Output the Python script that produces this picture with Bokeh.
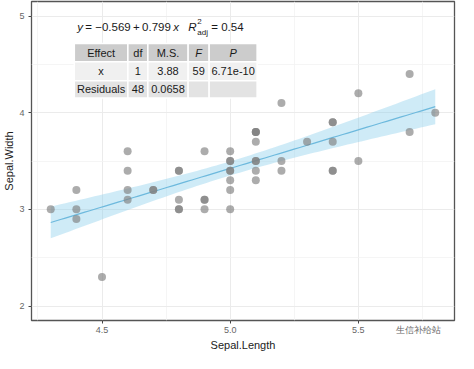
import numpy as np
from bokeh.plotting import figure
from bokeh.models import (Range1d, FixedTicker, Label, ColumnDataSource,
                          LinearAxis, Grid)
from bokeh.embed import file_html
from bokeh.resources import INLINE

# ---- data (iris setosa) ----
sepal_length = [5.1, 4.9, 4.7, 4.6, 5.0, 5.4, 4.6, 5.0, 4.4, 4.9,
                5.4, 4.8, 4.8, 4.3, 5.8, 5.7, 5.4, 5.1, 5.7, 5.1,
                5.4, 5.1, 4.6, 5.1, 4.8, 5.0, 5.0, 5.2, 5.2, 4.7,
                4.8, 5.4, 5.2, 5.5, 4.9, 5.0, 5.5, 4.9, 4.4, 5.1,
                5.0, 4.5, 4.4, 5.0, 5.1, 4.8, 5.1, 4.6, 5.3, 5.0]
sepal_width = [3.5, 3.0, 3.2, 3.1, 3.6, 3.9, 3.4, 3.4, 2.9, 3.1,
               3.7, 3.4, 3.0, 3.0, 4.0, 4.4, 3.9, 3.5, 3.8, 3.8,
               3.4, 3.7, 3.6, 3.3, 3.4, 3.0, 3.4, 3.5, 3.4, 3.2,
               3.1, 3.4, 4.1, 4.2, 3.1, 3.2, 3.5, 3.6, 3.0, 3.4,
               3.5, 2.3, 3.2, 3.5, 3.8, 3.0, 3.8, 3.2, 3.7, 3.3]

x_ticks = [4.5, 5.0, 5.5]
x_tick_labels = ["4.5", "5.0", "5.5"]
x_minor = [4.25, 4.75, 5.25, 5.75]
y_ticks = [2, 3, 4, 5]
y_minor = [2.5, 3.5, 4.5]

table_header = ["Effect", "df", "M.S.", "F", "P"]
table_rows = [["x", "1", "3.88", "59", "6.71e-10"],
              ["Residuals", "48", "0.0658", "", ""]]

eq_intercept = "\u22120.569"
eq_slope = "0.799"
eq_r2 = "0.54"
watermark = "\u751f\u4fe1\u8865\u7ed9\u7ad9"
watermark_x = 5.735

# ---- regression band (stat_smooth, lm, 95% CI) ----
xs = np.array(sepal_length)
ys = np.array(sepal_width)
n = len(xs)
b1, b0 = np.polyfit(xs, ys, 1)
resid = ys - (b0 + b1 * xs)
s = np.sqrt(np.sum(resid ** 2) / (n - 2))
sxx = np.sum((xs - xs.mean()) ** 2)
grid_x = np.linspace(xs.min(), xs.max(), 80)
fit = b0 + b1 * grid_x
se = s * np.sqrt(1.0 / n + (grid_x - xs.mean()) ** 2 / sxx)
tcrit = 2.0106
lower = fit - tcrit * se
upper = fit + tcrit * se

FONT = "Liberation Sans"

p = figure(width=458, height=353, output_backend="svg", toolbar_location=None,
           x_range=Range1d(4.225, 5.875), y_range=Range1d(1.85, 5.15),
           x_axis_location=None,
           min_border_left=0, min_border_right=4, min_border_top=1, min_border_bottom=0)
p.background_fill_color = "white"
p.border_fill_color = "white"
p.outline_line_color = "#555555"
p.outline_line_width = 1.3


def style_axis(ax):
    ax.axis_line_color = None
    ax.major_tick_line_color = "#444444"
    ax.major_tick_in = 0
    ax.major_tick_out = 3
    ax.minor_tick_line_color = None
    ax.major_label_text_font = FONT
    ax.major_label_text_font_size = "9px"
    ax.major_label_text_color = "#666666"
    ax.major_label_standoff = 3
    ax.axis_label_text_font = FONT
    ax.axis_label_text_font_size = "11px"
    ax.axis_label_text_font_style = "normal"
    ax.axis_label_text_color = "#222222"
    ax.axis_label_standoff = 1


# y axis
style_axis(p.yaxis[0])
p.yaxis.ticker = FixedTicker(ticks=y_ticks, minor_ticks=y_minor)
p.yaxis.axis_label = "Sepal.Width"

# x axis, part 1: tick marks only (nearest the frame)
x_marks = LinearAxis(ticker=FixedTicker(ticks=x_ticks))
style_axis(x_marks)
x_marks.major_label_overrides = {t: "" for t in x_ticks}
x_marks.major_label_text_font_size = "1px"
x_marks.major_label_standoff = 0
p.add_layout(x_marks, "below")

# x axis, part 2: tick labels (+ watermark) and title
x_labels = LinearAxis(ticker=FixedTicker(ticks=x_ticks + [watermark_x]))
style_axis(x_labels)
x_labels.major_tick_out = 0
x_labels.major_label_standoff = 1
x_labels.major_label_overrides = dict(zip(x_ticks + [watermark_x],
                                          x_tick_labels + [watermark]))
x_labels.axis_label = "Sepal.Length"
p.add_layout(x_labels, "below")

# grids
x_grid_ticker = FixedTicker(ticks=x_ticks, minor_ticks=x_minor)
y_grid_ticker = FixedTicker(ticks=y_ticks, minor_ticks=y_minor)
if len(p.xgrid) == 0:
    p.add_layout(Grid(dimension=0))
for g in p.xgrid:
    g.ticker = x_grid_ticker
for g in p.ygrid:
    g.ticker = y_grid_ticker
for g in list(p.xgrid) + list(p.ygrid):
    g.grid_line_color = "#EBEBEB"
    g.grid_line_width = 1
    g.minor_grid_line_color = "#F2F2F2"
    g.minor_grid_line_width = 0.8

# ribbon + line
band = ColumnDataSource(dict(x=grid_x, lo=lower, hi=upper, fit=fit))
p.varea(x="x", y1="lo", y2="hi", source=band, fill_color="#87CEEB", fill_alpha=0.4)
p.line(x="x", y="fit", source=band, line_color="#6DB9DD", line_width=1.2)

# points
p.scatter(sepal_length, sepal_width, size=8, fill_color="#7F7F7F", fill_alpha=0.65,
          line_color=None)

# ---- table ----
col_edges = [4.392, 4.601, 4.679, 4.836, 4.918, 5.105]
row_edges = [4.716, 4.528, 4.331, 4.153]
row_fills = ["#CCCCCC", "#F0F0F0", "#E3E3E3"]
all_rows = [table_header] + table_rows
ql, qr, qt, qb, qf = [], [], [], [], []
for ri, row in enumerate(all_rows):
    for ci, txt in enumerate(row):
        ql.append(col_edges[ci]); qr.append(col_edges[ci + 1])
        qt.append(row_edges[ri]); qb.append(row_edges[ri + 1])
        qf.append(row_fills[ri])
p.quad(left=ql, right=qr, top=qt, bottom=qb, fill_color=qf,
       line_color="white", line_width=1.5)
for ri, row in enumerate(all_rows):
    for ci, txt in enumerate(row):
        if not txt:
            continue
        italic = ri == 0 and txt in ("F", "P")
        p.add_layout(Label(x=(col_edges[ci] + col_edges[ci + 1]) / 2,
                           y=(row_edges[ri] + row_edges[ri + 1]) / 2,
                           text=txt, text_align="center", text_baseline="middle",
                           text_font=FONT, text_font_size="11px",
                           text_font_style="italic" if italic else "normal",
                           text_color="#1a1a1a"))

# ---- equation ----
ex, ey = 4.392, 4.885
base = 3
pieces = [
    ("y", 0, 0, "italic", "11.5px"),
    ("= " + eq_intercept + "\u2009+\u2009" + eq_slope, 8, 0, "normal", "11.5px"),
    ("x", 96, 0, "italic", "11.5px"),
    ("R", 111, 0, "italic", "11.5px"),
    ("2", 120, 6, "normal", "8px"),
    ("adj", 120, -5, "normal", "8px"),
    ("= " + eq_r2, 134, 0, "normal", "11.5px"),
]
for txt, dx, dy, style, size in pieces:
    p.add_layout(Label(x=ex, y=ey, x_offset=base + dx, y_offset=dy, text=txt,
                       text_align="left", text_baseline="middle",
                       text_font=FONT, text_font_size=size, text_font_style=style,
                       text_color="#1a1a1a"))

open("out.html", "w").write(file_html(p, INLINE))
